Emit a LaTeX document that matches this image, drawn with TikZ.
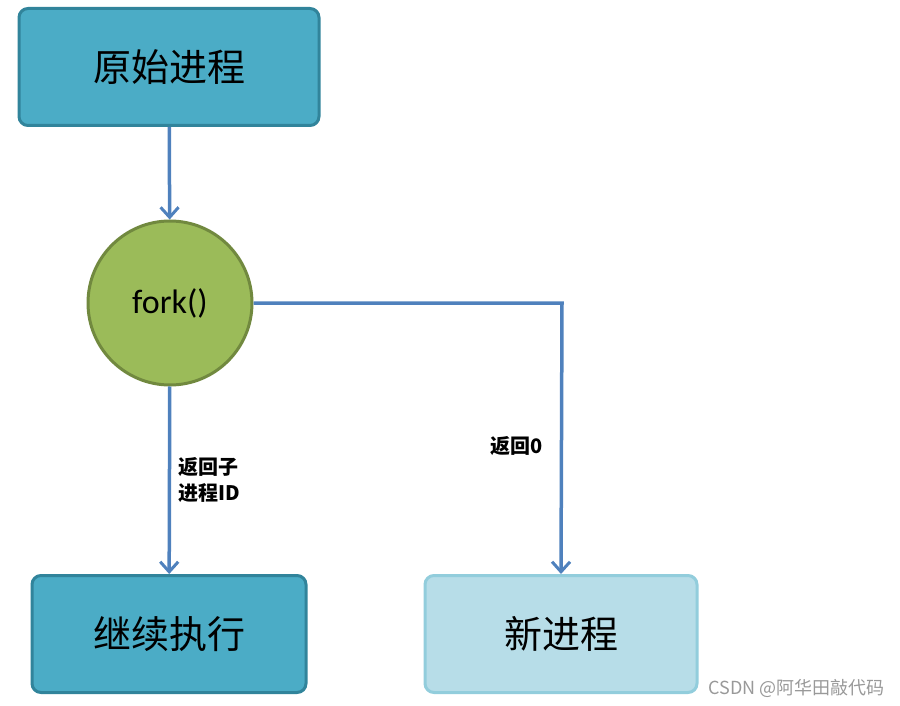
\documentclass[tikz,border=0pt]{standalone}
\usepackage{fontspec}
\setmainfont{Carlito}
\newfontfamily\cjk{Noto Sans CJK SC}
\usetikzlibrary{arrows.meta,positioning}
\definecolor{procfill}{HTML}{4BACC6}
\definecolor{procdraw}{HTML}{31849B}
\definecolor{newfill}{HTML}{B7DDE8}
\definecolor{newdraw}{HTML}{92CDDC}
\definecolor{forkfill}{HTML}{9BBB59}
\definecolor{forkdraw}{HTML}{71893F}
\definecolor{linkcol}{HTML}{4F81BD}
\tikzstyle{proc} = [rectangle, rounded corners=9pt, minimum width=300pt, minimum height=117pt, line width=3pt, draw=procdraw, fill=procfill, font=\cjk\fontsize{38}{40}\selectfont]
\tikzstyle{newproc} = [proc, draw=newdraw, fill=newfill]
\tikzstyle{forkc} = [circle, minimum size=164pt, line width=3pt, draw=forkdraw, fill=forkfill, font=\fontsize{34}{36}\selectfont]
\tikzstyle{link} = [line width=3.5pt, draw=linkcol, -{Straight Barb[length=10pt,width=18pt,line width=3pt]}]
\tikzstyle{lbl} = [font=\cjk\bfseries\fontsize{20}{26}\selectfont, align=left]
\begin{document}
\begin{tikzpicture}[x=1pt,y=-1pt]
\useasboundingbox (0,0) rectangle (900,706);
\node (orig) [proc] at (169,67) {原始进程};
\node (fork) [forkc] at (170,303) {fork()};
\node (cont) [proc, minimum width=274pt] at (169,634) {继续执行};
\node (child) [newproc, minimum width=272pt] at (561,634) {新进程};
\coordinate (turn) at (562,303);

\draw [link] (orig) -- (fork);
\draw [link] (fork) -- node[lbl, anchor=west, xshift=4pt] {返回子\\进程ID} (cont);
\draw [link] (fork.east) -- (turn) -- node[lbl, anchor=east, xshift=-14pt, yshift=-8pt] {返回0} (child.north);

\node (mark) [font=\cjk\fontsize{18}{20}\selectfont, text=gray!80, anchor=east] at (888,688) {CSDN @阿华田敲代码};
\end{tikzpicture}
\end{document}
